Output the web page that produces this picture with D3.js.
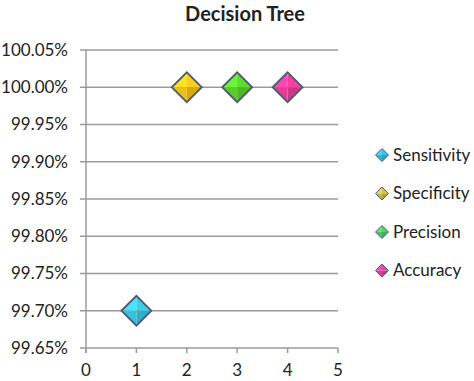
<!DOCTYPE html>
<html>
<head>
<meta charset="utf-8">
<script src="https://cdn.jsdelivr.net/npm/d3@7"></script>
<style>
  body { margin: 0; background: #fff; }
  text { font-family: Lato, "Open Sans", sans-serif; fill: #222; }
</style>
</head>
<body>
<div id="chart"></div>
<script>
// series data
var seriesNames = ["Sensitivity", "Specificity", "Precision", "Accuracy"];
var xValues = [1, 2, 3, 4];
var yValues = [0.9970, 1.0000, 1.0000, 1.0000];
var seriesColors = ["#38c4e0", "#f2c21a", "#58d12c", "#ea3d98"];
var legendColors = ["#38b8d8", "#c9b84a", "#4fc46a", "#e0409a"];
var yTicks = [0.9965, 0.9970, 0.9975, 0.9980, 0.9985, 0.9990, 0.9995, 1.0000, 1.0005];
var xTicks = [0, 1, 2, 3, 4, 5];

var W = 474, H = 381;
var margin = {top: 50, right: 136, bottom: 33, left: 86};
var width = W - margin.left - margin.right;
var height = H - margin.top - margin.bottom;

var x = d3.scaleLinear().domain([0, 5]).range([0, width]);
var y = d3.scaleLinear().domain([0.9965, 1.0005]).range([height, 0]);

var svg = d3.select("#chart").append("svg")
    .attr("width", W).attr("height", H);

svg.append("text")
    .attr("x", 245).attr("y", 21)
    .attr("text-anchor", "middle")
    .style("font-size", "20px").style("font-weight", "bold")
    .text("Decision Tree");

var g = svg.append("g")
    .attr("transform", "translate(" + margin.left + "," + margin.top + ")");

// gridlines
g.selectAll(".grid").data(yTicks).enter().append("line")
    .attr("x1", -6).attr("x2", width)
    .attr("y1", function(d) { return y(d); })
    .attr("y2", function(d) { return y(d); })
    .attr("stroke", "#9a9a9a").attr("stroke-width", 1.5);

// y axis line
g.append("line")
    .attr("x1", 0).attr("x2", 0).attr("y1", 0).attr("y2", height + 5)
    .attr("stroke", "#9a9a9a").attr("stroke-width", 1.5);

// x ticks
g.selectAll(".xt").data(xTicks).enter().append("line")
    .attr("x1", function(d) { return x(d); }).attr("x2", function(d) { return x(d); })
    .attr("y1", height).attr("y2", height + 5)
    .attr("stroke", "#9a9a9a").attr("stroke-width", 1.5);

g.selectAll(".xl").data(xTicks).enter().append("text")
    .attr("x", function(d) { return x(d); })
    .attr("y", height + 28)
    .attr("text-anchor", "middle")
    .style("font-size", "17px")
    .text(function(d) { return d; });

g.selectAll(".yl").data(yTicks).enter().append("text")
    .attr("x", -18)
    .attr("y", function(d) { return y(d); })
    .attr("dy", "0.35em")
    .attr("text-anchor", "end")
    .style("font-size", "17px")
    .text(function(d) { return d3.format(".2%")(d); });

// faceted diamond marker
function diamond(sel, r, color) {
    var c = d3.color(color);
    var facets = [
        {pts: [[0, 0], [-r, 0], [0, -r]], col: c.brighter(0.45)},
        {pts: [[0, 0], [0, -r], [r, 0]], col: c.brighter(0.15)},
        {pts: [[0, 0], [r, 0], [0, r]], col: c.darker(0.35)},
        {pts: [[0, 0], [0, r], [-r, 0]], col: c.darker(0.05)}
    ];
    facets.forEach(function(f) {
        sel.append("path")
            .attr("d", "M" + f.pts.map(function(p) { return p.join(","); }).join("L") + "Z")
            .attr("fill", f.col);
    });
    sel.append("path")
        .attr("d", "M" + (-r) + ",0L0," + (-r) + "L" + r + ",0L0," + r + "Z")
        .attr("fill", "none")
        .attr("stroke", "#4d5c72").attr("stroke-width", r > 8 ? 1.8 : 1);
}

xValues.forEach(function(xv, i) {
    var m = g.append("g")
        .attr("transform", "translate(" + x(xv) + "," + y(yValues[i]) + ")");
    diamond(m, 15, seriesColors[i]);
});

// legend
var legend = svg.append("g").attr("transform", "translate(382,155)");
seriesNames.forEach(function(name, i) {
    var row = legend.append("g").attr("transform", "translate(0," + (i * 38.5) + ")");
    diamond(row.append("g"), 6.5, legendColors[i]);
    row.append("text")
        .attr("x", 11).attr("dy", "0.35em")
        .style("font-size", "17px")
        .text(name);
});
</script>
</body>
</html>
